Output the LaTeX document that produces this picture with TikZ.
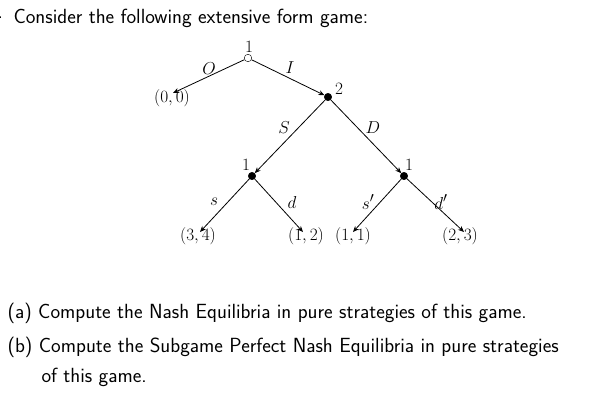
\documentclass[tikz,border=0pt]{standalone}
\usetikzlibrary{arrows.meta}
\begin{document}
\begin{tikzpicture}[x=1pt,y=-1pt,
  dec/.style={circle,draw,fill=black,inner sep=0pt,minimum size=7.5pt},
  opendec/.style={circle,draw,fill=white,inner sep=0pt,minimum size=7.5pt},
  leaf/.style={inner sep=1pt,font=\fontsize{19}{22}\selectfont},
  lab/.style={font=\fontsize{19}{22}\selectfont},
  txt/.style={anchor=west,font=\sffamily\fontsize{20.5}{24}\selectfont},
  edge/.style={-{Stealth[length=6pt,width=5pt]},line width=0.8pt}]
\useasboundingbox (0,0) rectangle (600,400);
\node[txt] at (10,18) {Consider the following extensive form game:};
\node[txt] at (-6,18) {.};
\node[opendec] (r) at (248,58) {};
\node[dec] (n2) at (328,97) {};
\node[dec] (l1) at (252,176) {};
\node[dec] (r1) at (404,176) {};
\node[leaf,anchor=north] (o) at (172,88) {$(0,0)$};
\node[leaf,anchor=north] (a) at (198,226) {$(3,4)$};
\node[leaf,anchor=north] (b) at (306,226) {$(1,2)$};
\node[leaf,anchor=north] (c) at (353,226) {$(1,1)$};
\node[leaf,anchor=north] (e) at (460,226) {$(2,3)$};
\draw[edge] (r) -- (173,93);
\draw[edge] (r) -- (n2);
\draw[edge] (n2) -- (l1);
\draw[edge] (n2) -- (r1);
\draw[edge] (l1) -- (200,232);
\draw[edge] (l1) -- (303,232);
\draw[edge] (r1) -- (353,232);
\draw[edge] (r1) -- (464,232);
\node[lab] at (249,47) {$1$};
\node[lab] at (339,89) {$2$};
\node[lab] at (246,165) {$1$};
\node[lab] at (409,165) {$1$};
\node[lab] at (209,69) {$O$};
\node[lab] at (290,68) {$I$};
\node[lab] at (284,128) {$S$};
\node[lab] at (373,128) {$D$};
\node[lab] at (214,202) {$s$};
\node[lab] at (292,202) {$d$};
\node[lab] at (368,202) {$s'$};
\node[lab] at (441,202) {$d'$};
\node[txt] at (4,313) {(a) Compute the Nash Equilibria in pure strategies of this game.};
\node[txt] at (4,347) {(b) Compute the Subgame Perfect Nash Equilibria in pure strategies};
\node[txt] at (38,377) {of this game.};
\end{tikzpicture}
\end{document}
